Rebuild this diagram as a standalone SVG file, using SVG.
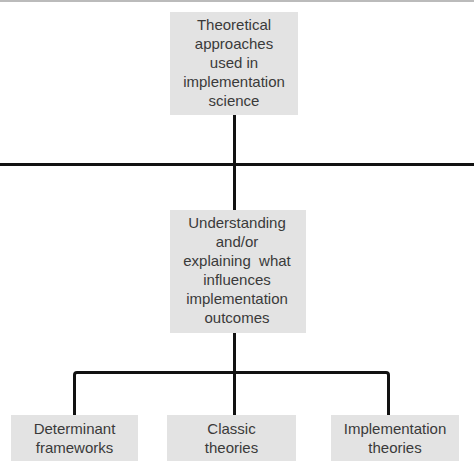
<svg xmlns="http://www.w3.org/2000/svg" width="474" height="474" viewBox="0 0 474 474">
<style>
.box{fill:#e3e3e3;}
.t{font-family:"Liberation Sans",Arial,sans-serif;font-size:15px;fill:#3a3a3a;text-anchor:middle;}
.pre{white-space:pre;}
.c{fill:none;stroke:#111;stroke-width:3;stroke-linejoin:round;}
</style>
<rect x="0" y="0" width="474" height="474" fill="#fff"/>
<rect x="0" y="0" width="474" height="2" fill="#bbb"/>
<g id="connectors">
<line class="c" x1="0" y1="164.5" x2="474" y2="164.5"/>
<line class="c" x1="234.5" y1="115" x2="234.5" y2="210"/>
<line class="c" x1="234.5" y1="333" x2="234.5" y2="415"/>
<path class="c" d="M74.5,415 V375 Q74.5,372.5 77,372.5 H386 Q388.5,372.5 388.5,375 V415"/>
</g>
<g id="n-root">
<rect class="box" x="170" y="12" width="128" height="103"/>
<text class="t" x="234" y="30">Theoretical</text>
<text class="t" x="234" y="49">approaches</text>
<text class="t" x="234" y="68">used in</text>
<text class="t" x="234" y="87">implementation</text>
<text class="t" x="234" y="106">science</text>
</g>
<g id="n-understanding">
<rect class="box" x="170" y="210" width="136" height="123"/>
<text class="t" x="237" y="228">Understanding</text>
<text class="t" x="237" y="247">and/or</text>
<text class="t pre" x="237" y="266" xml:space="preserve">explaining  what</text>
<text class="t" x="237" y="285">influences</text>
<text class="t" x="237" y="304">implementation</text>
<text class="t" x="237" y="323">outcomes</text>
</g>
<g id="n-determinant">
<rect class="box" x="11" y="415" width="127" height="46"/>
<text class="t" x="74.5" y="434">Determinant</text>
<text class="t" x="74.5" y="453">frameworks</text>
</g>
<g id="n-classic">
<rect class="box" x="167" y="415" width="129" height="46"/>
<text class="t" x="231.5" y="434">Classic</text>
<text class="t" x="231.5" y="453">theories</text>
</g>
<g id="n-implementation">
<rect class="box" x="331" y="415" width="128" height="46"/>
<text class="t" x="395" y="434">Implementation</text>
<text class="t" x="395" y="453">theories</text>
</g>
</svg>
